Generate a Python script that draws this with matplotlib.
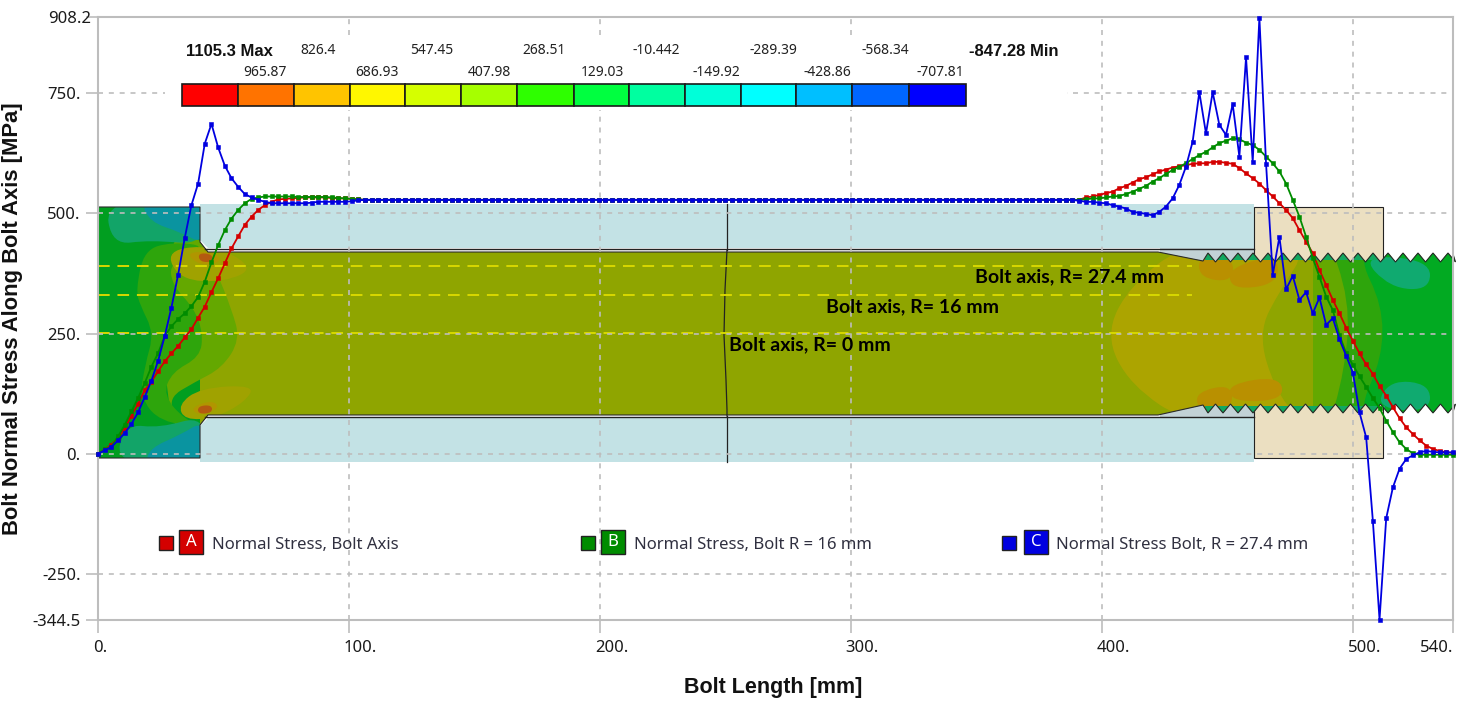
import numpy as np
import matplotlib
matplotlib.use("Agg")
import matplotlib.pyplot as plt
from matplotlib.path import Path
from matplotlib.patches import PathPatch, Polygon, Rectangle
from matplotlib.transforms import ScaledTranslation

# values, one point every 2.66 mm along the bolt
x_step = 2.66

stress_axis = [
    0, 9, 19, 33, 53, 79, 104, 132, 150, 172, 192, 209, 224, 242, 259, 283, 306, 336, 365, 396,
    427, 452, 476, 493, 507, 517, 524, 529, 530, 531, 532, 533, 533, 533, 533, 532, 531, 531, 530, 529,
    528, 528, 528, 528, 528, 528, 528, 528, 528, 528, 528, 528, 528, 528, 528, 528, 528, 528, 528, 528,
    528, 528, 528, 528, 528, 528, 528, 528, 528, 528, 528, 528, 528, 528, 528, 528, 528, 528, 528, 528,
    528, 528, 528, 528, 528, 528, 528, 528, 528, 528, 528, 528, 528, 528, 528, 528, 528, 528, 528, 528,
    528, 528, 528, 528, 528, 528, 528, 528, 528, 528, 528, 528, 528, 528, 528, 528, 528, 528, 528, 528,
    528, 528, 528, 528, 528, 528, 528, 528,
    528, 528, 528, 528, 528, 528, 528, 528, 528, 528, 528, 528, 528, 528, 528, 528, 528, 528, 528, 528,
    533, 535, 538, 542, 545, 552, 557, 564, 571, 575, 581, 587, 591, 595, 598, 600, 603, 604, 604, 607,
    607, 605, 603, 594, 583, 573, 562, 548, 535, 521, 507, 490, 465, 441, 417, 382, 351, 320, 292, 262,
    235, 209, 186, 166, 141, 121, 97, 74, 55, 41, 28, 17, 10, 6, 3, 2,
]

stress_r16 = [
    0, 9, 15, 36, 60, 88, 116, 147, 181, 209, 245, 265, 280, 292, 307, 326, 358, 398, 434, 465,
    489, 507, 521, 530, 533, 535, 535, 535, 535, 535, 534, 534, 534, 534, 534, 533, 532, 531, 530, 529,
    528, 528, 528, 528, 528, 528, 528, 528, 528, 528, 528, 528, 528, 528, 528, 528, 528, 528, 528, 528,
    528, 528, 528, 528, 528, 528, 528, 528, 528, 528, 528, 528, 528, 528, 528, 528, 528, 528, 528, 528,
    528, 528, 528, 528, 528, 528, 528, 528, 528, 528, 528, 528, 528, 528, 528, 528, 528, 528, 528, 528,
    528, 528, 528, 528, 528, 528, 528, 528, 528, 528, 528, 528, 528, 528, 528, 528, 528, 528, 528, 528,
    528, 528, 528, 528, 528, 528, 528, 528,
    528, 528, 528, 528, 528, 528, 528, 528, 528, 528, 528, 528, 528, 528, 528, 528, 528, 528, 528, 528,
    529, 531, 531, 533, 535, 536, 540, 545, 551, 557, 566, 573, 582, 590, 597, 604, 613, 621, 628, 637,
    646, 651, 656, 654, 647, 642, 632, 618, 604, 587, 562, 528, 493, 451, 407, 368, 327, 299, 247, 209,
    185, 161, 139, 116, 95, 69, 45, 24, 10, 1, -2, -2, -2, -2, -2, -2,
]

stress_r27 = [
    0, 7, 14, 28, 43, 62, 86, 118, 152, 193, 245, 304, 372, 449, 517, 562, 645, 686, 637, 599,
    573, 555, 540, 533, 528, 524, 521, 521, 521, 521, 521, 521, 522, 524, 524, 524, 524, 524, 525, 527,
    528, 528, 528, 528, 528, 528, 528, 528, 528, 528, 528, 528, 528, 528, 528, 528, 528, 528, 528, 528,
    528, 528, 528, 528, 528, 528, 528, 528, 528, 528, 528, 528, 528, 528, 528, 528, 528, 528, 528, 528,
    528, 528, 528, 528, 528, 528, 528, 528, 528, 528, 528, 528, 528, 528, 528, 528, 528, 528, 528, 528,
    528, 528, 528, 528, 528, 528, 528, 528, 528, 528, 528, 528, 528, 528, 528, 528, 528, 528, 528, 528,
    528, 528, 528, 528, 528, 528, 528,
    528, 528, 528, 528, 528, 528, 528, 528, 528, 528, 528, 528, 528, 528, 528, 528, 528, 528, 528, 528,
    526, 524, 524, 522, 521, 517, 514, 510, 503, 501, 499, 496, 503, 514, 531, 559, 597, 649, 752, 666,
    752, 684, 663, 727, 618, 824, 607, 907, 603, 372, 451, 342, 370, 320, 336, 292, 325, 268, 282, 238,
    204, 169, 86, 34, -139, -344.5, -134, -70, -31, -11, -3, 3, 6, 4, 3, 3, 3,
]

x_ticks = [0, 100, 200, 300, 400, 500, 540]
x_labels = ["0.", "100.", "200.", "300.", "400.", "500.", "540."]
y_ticks = [-344.5, -250, 0, 250, 500, 750, 908.2]
y_labels = ["-344.5", "-250.", "0.", "250.", "500.", "750.", "908.2"]

series_names = ["Normal Stress, Bolt Axis", "Normal Stress, Bolt R = 16 mm", "Normal Stress Bolt, R = 27.4 mm"]
series_letters = ["A", "B", "C"]
series_colors = ["#d40000", "#008c00", "#0000e0"]

band_colors = ["#ff0000", "#ff7300", "#ffc400", "#fff700", "#d5ff00", "#a6ff00", "#2eff00",
               "#00ff40", "#00ffa0", "#00ffd9", "#00ffff", "#00bfff", "#0066ff", "#0000ff"]
band_top = ["826.4", "547.45", "268.51", "-10.442", "-289.39", "-568.34"]
band_bottom = ["965.87", "686.93", "407.98", "129.03", "-149.92", "-428.86", "-707.81"]

FONT = "Noto Sans"
BOLD = "Liberation Sans"
W, H = 1459, 706

fig = plt.figure(figsize=(W / 100, H / 100), dpi=100, facecolor="white")


def pixel_axes(z):
    a = fig.add_axes([0, 0, 1, 1], zorder=z)
    a.set_xlim(0, W)
    a.set_ylim(H, 0)
    a.axis("off")
    a.patch.set_alpha(0)
    return a


def blob(a, pts, color, clip=None):
    # closed smooth shape through the midpoints of pts
    pts = np.array(pts, dtype=float)
    mids = (pts + np.roll(pts, -1, axis=0)) / 2
    verts = [mids[-1]]
    codes = [Path.MOVETO]
    for p, m in zip(pts, mids):
        verts += [p, m]
        codes += [Path.CURVE3, Path.CURVE3]
    patch = PathPatch(Path(verts, codes), fc=color, ec="none")
    a.add_patch(patch)
    if clip is not None:
        patch.set_clip_path(clip)
    return patch


def shift_label(label, dx, dy=0):
    # move a tick label by some pixels
    label.set_transform(label.get_transform() + ScaledTranslation(dx / 100, dy / 100, fig.dpi_scale_trans))


# the section picture behind the curves, in pixels
bg = pixel_axes(0)

bg.add_patch(Polygon([(200, 204), (1254, 204), (1254, 248), (208, 248), (200, 240)], fc="#c3e2e5", ec="none"))
bg.add_patch(Polygon([(200, 462), (1254, 462), (1254, 418), (208, 418), (200, 426)], fc="#c3e2e5", ec="none"))
bg.add_patch(Rectangle((1160, 248), 94, 14, fc="#c2d2d6", ec="none"))
bg.add_patch(Rectangle((1160, 404), 94, 14, fc="#c2d2d6", ec="none"))
bg.add_patch(Rectangle((1254, 207), 129, 60, fc="#ebdfc1", ec="#222222", lw=0.8))
bg.add_patch(Rectangle((1254, 400), 129, 58, fc="#ebdfc1", ec="#222222", lw=0.8))
bg.plot([205, 1254], [249, 249], color="#222222", lw=1)
bg.plot([205, 1254], [417, 417], color="#222222", lw=1)

top_edge = [(98, 207), (200, 207), (200, 242), (208, 252), (1158, 252), (1203, 261)]
bottom_edge = [(1203, 405), (1158, 415), (208, 415), (200, 425), (200, 458), (98, 458)]
tooth_x = np.arange(1208, 1453, 15)
for tx in tooth_x:
    top_edge += [(tx, 253), (tx + 7.5, 262)]
top_edge += [(1453, 254)]
bottom_edge = [(1453, 412)] + [p for tx in tooth_x[::-1] for p in [(tx + 7.5, 404), (tx, 413)]] + bottom_edge

body = Polygon(top_edge + bottom_edge, fc="#8fa500", ec="none")
bg.add_patch(body)

# left end of the bolt
bg.add_patch(Rectangle((98, 200), 102, 265, fc="#019e20", ec="none", clip_path=body))
blob(bg, [(165, 235), (200, 235), (215, 268), (232, 310), (240, 340), (222, 368), (195, 382), (168, 398), (178, 422), (205, 432), (165, 432)],
     "#64a800", body)
blob(bg, [(136, 290), (144, 250), (172, 242), (208, 246), (170, 262), (172, 285), (194, 308), (203, 333), (200, 357), (172, 372), (163, 395), (185, 420), (208, 428), (160, 422), (140, 397), (145, 365), (154, 333), (140, 305)],
     "#2ea50c", body)
blob(bg, [(165, 250), (215, 245), (255, 268), (225, 282), (180, 280)], "#a0a200", body)
blob(bg, [(185, 252), (215, 252), (222, 262), (200, 266)], "#b09600", body)
blob(bg, [(198, 253), (212, 254), (213, 262), (200, 262)], "#b45a10", body)
blob(bg, [(178, 405), (200, 388), (255, 385), (245, 402), (215, 418), (185, 420)], "#a0a200", body)
blob(bg, [(190, 408), (212, 400), (220, 408), (200, 416)], "#b09600", body)
blob(bg, [(198, 406), (212, 405), (212, 413), (198, 414)], "#b45a10", body)
blob(bg, [(105, 200), (205, 200), (205, 245), (150, 240), (112, 245)], "#12a468", body)
blob(bg, [(140, 200), (205, 200), (205, 245), (180, 232), (150, 222)], "#0a94a0", body)
blob(bg, [(115, 465), (205, 465), (205, 415), (160, 428), (125, 424)], "#12a468", body)
blob(bg, [(145, 465), (205, 465), (205, 420), (180, 435), (150, 448)], "#0a94a0", body)

# thread end of the bolt
bg.add_patch(Rectangle((1313, 240), 190, 190, fc="#64a800", ec="none", clip_path=body))
blob(bg, [(1325, 230), (1350, 300), (1345, 370), (1325, 440), (1500, 440), (1500, 230)], "#2ea50c", body)
blob(bg, [(1345, 230), (1395, 330), (1345, 440), (1500, 440), (1500, 230)], "#02aa22", body)
blob(bg, [(1360, 255), (1430, 260), (1430, 290), (1390, 288)], "#10aa70", body)
blob(bg, [(1375, 408), (1390, 380), (1430, 384), (1430, 412)], "#10aa70", body)
blob(bg, [(1190, 240), (1130, 285), (1105, 335), (1130, 385), (1190, 425), (1300, 420), (1275, 390), (1258, 333), (1280, 290), (1310, 245)],
     "#aca400", body)
blob(bg, [(1198, 256), (1234, 258), (1232, 282), (1200, 278)], "#b99000", body)
blob(bg, [(1228, 268), (1278, 254), (1278, 284), (1232, 290)], "#b99000", body)
blob(bg, [(1196, 392), (1232, 384), (1232, 410), (1198, 410)], "#b99000", body)
blob(bg, [(1228, 384), (1280, 376), (1284, 400), (1232, 402)], "#b99000", body)
bg.add_patch(Rectangle((1205, 250), 180, 10, fc="#12a860", ec="none", clip_path=body))
bg.add_patch(Rectangle((1205, 406), 180, 10, fc="#12a860", ec="none", clip_path=body))

bg.add_patch(Polygon(top_edge + bottom_edge, fc="none", ec="#2a2a2a", lw=0.8))
bg.plot([727, 727], [204, 250], color="#222222", lw=0.9)
bg.plot([727, 725, 724, 726, 727, 727], [250, 290, 335, 380, 410, 416], color="#222222", lw=0.9)
bg.plot([727, 727], [416, 462], color="#222222", lw=0.9)

for yy in [266, 295, 333]:
    bg.plot([98, 1192], [yy, yy], color="#d8d800", lw=1.4, dashes=(6, 4))

# chart
ax = fig.add_axes([98 / W, 1 - 619.5 / H, (1453 - 98) / W, (619.5 - 17) / H], zorder=1)
ax.patch.set_alpha(0)
ax.set_xlim(0, 540)
ax.set_ylim(-344.5, 908.2)
ax.set_xticks(x_ticks)
ax.set_xticklabels(x_labels, fontsize=12, family=FONT, color="#1a1a1a")
ax.set_yticks(y_ticks)
ax.set_yticklabels(y_labels, fontsize=12, family=FONT, color="#1a1a1a")
ax.tick_params(axis="y", length=8.5, width=1.2, color="#bdbdbd", pad=4)
ax.tick_params(axis="x", length=9, width=1.2, color="#bdbdbd", pad=6)
ax.grid(True, color="#bdbdbd", lw=1.2, dashes=(3, 3.5))
ax.set_axisbelow(False)
for s in ax.spines.values():
    s.set_color("#bdbdbd")
    s.set_linewidth(1.5)
for lab in ax.get_xticklabels()[:-1]:
    lab.set_ha("left")
    shift_label(lab, -5)
ax.get_xticklabels()[-1].set_ha("right")
shift_label(ax.get_yticklabels()[-1], 10)
ax.set_xlabel("Bolt Length [mm]", fontsize=15.5, fontweight="bold", family=BOLD, color="#111111")
ax.set_ylabel("Bolt Normal Stress Along Bolt Axis [MPa]", fontsize=15.8, fontweight="bold", family=BOLD, color="#111111")
ax.xaxis.set_label_coords(0.498, -0.096)
ax.yaxis.set_label_coords(-0.0555, 0.5)

for vals, col in zip([stress_axis, stress_r16, stress_r27], series_colors):
    xs = np.arange(len(vals)) * x_step
    ax.plot(xs, vals, color=col, lw=1.3, marker="s", ms=3.3, mew=0.4, mec=col, mfc=col, clip_on=False, zorder=5)

# colour bar and labels go over the grid
top = pixel_axes(2)
top.add_patch(Rectangle((165, 38), 902, 72, fc="white", ec="none"))
edges = [182, 238, 294, 350, 405, 461, 517, 574, 629, 685, 741, 796, 852, 909, 966]
for i, c in enumerate(band_colors):
    top.add_patch(Rectangle((edges[i], 84), edges[i + 1] - edges[i], 22, fc=c, ec="#1a1a1a", lw=1.2))

for lab, cx in zip(band_top, [318, 432, 544, 656, 773, 885]):
    top.text(cx, 51, lab, ha="center", va="center", fontsize=10, family=FONT, color="#222222")
for lab, cx in zip(band_bottom, [265, 377, 489, 602, 716, 827, 940]):
    top.text(cx, 73, lab, ha="center", va="center", fontsize=10, family=FONT, color="#222222")
top.text(186, 51, "1105.3 Max", ha="left", va="center", fontsize=12, fontweight="bold", family=BOLD, color="#111111")
top.text(969, 51, "-847.28 Min", ha="left", va="center", fontsize=12, fontweight="bold", family=BOLD, color="#111111")

for name, letter, col, sx, bx, tx in zip(series_names, series_letters, series_colors,
                                         [166, 588, 1009], [191, 613, 1036], [212, 634, 1056]):
    top.add_patch(Rectangle((sx - 7, 536), 14, 14, fc=col, ec="#222222", lw=1))
    top.add_patch(Rectangle((bx - 12, 530), 24, 24, fc=col, ec="#222222", lw=1))
    top.text(bx, 542, letter, ha="center", va="center", fontsize=12, color="white", family=FONT)
    top.text(tx, 545, name, ha="left", va="center", fontsize=12, family=FONT, color="#303040")

top.text(975, 277, "Bolt axis, R= 27.4 mm", ha="left", va="center", fontsize=14, fontweight="bold", family="Lato", color="black")
top.text(826, 307, "Bolt axis, R= 16 mm", ha="left", va="center", fontsize=14, fontweight="bold", family="Lato", color="black")
top.text(729, 345, "Bolt axis, R= 0 mm", ha="left", va="center", fontsize=14, fontweight="bold", family="Lato", color="black")

fig.savefig("out.png", dpi=100)
